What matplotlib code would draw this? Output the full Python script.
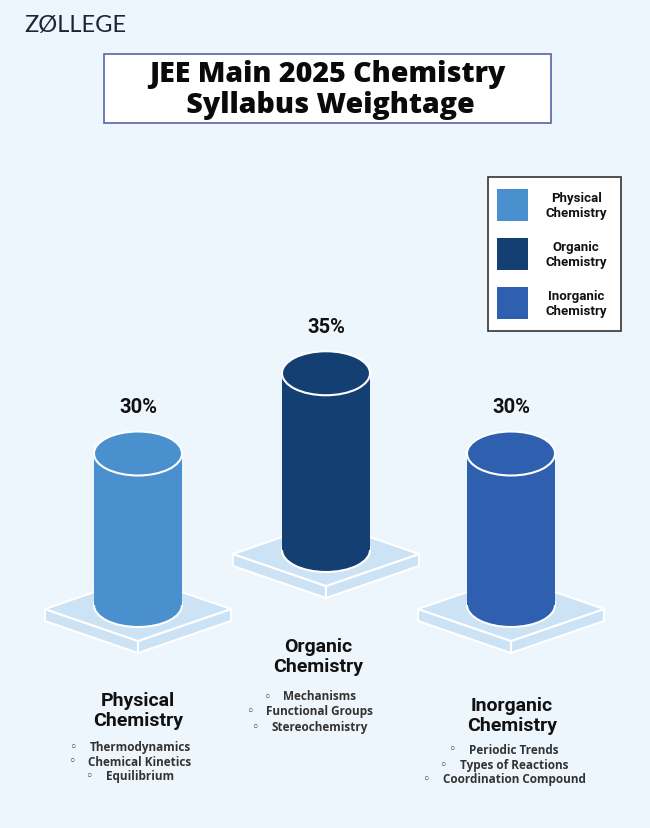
import matplotlib
matplotlib.use("Agg")
import matplotlib.pyplot as plt
from matplotlib.patches import Ellipse, Rectangle, Polygon

categories = ["Physical\nChemistry", "Organic\nChemistry", "Inorganic\nChemistry"]
legend_labels = ["Physical\nChemistry", "Organic\nChemistry", "Inorganic\nChemistry"]
values = [30, 35, 30]
topics = [["Thermodynamics", "Chemical Kinetics", "Equilibrium"],
          ["Mechanisms", "Functional Groups", "Stereochemistry"],
          ["Periodic Trends", "Types of Reactions", "Coordination Compound"]]
colors = ["#4a8fce", "#143f73", "#2f60b0"]

bg = "#eef6fd"
fig = plt.figure(figsize=(6.5, 8.29), dpi=100, facecolor=bg)
ax = fig.add_axes([0, 0, 1, 1])
ax.set_xlim(0, 650); ax.set_ylim(829, 0); ax.axis("off")
ax.set_facecolor(bg)

xc = [138, 326, 511]
base = [606, 551, 606]
scale = 5.05
W, EH = 88, 44
plat = "#cce2f5"

for i, v in enumerate(values):
    cx, by = xc[i], base[i] + 4
    hw, hh, th = 93, 32, 12
    ax.add_patch(Polygon([(cx-hw, by), (cx, by+hh), (cx, by+hh+th), (cx-hw, by+th)],
                         closed=True, fc=plat, ec="white", lw=1.5, zorder=1))
    ax.add_patch(Polygon([(cx+hw, by), (cx, by+hh), (cx, by+hh+th), (cx+hw, by+th)],
                         closed=True, fc=plat, ec="white", lw=1.5, zorder=1))
    ax.add_patch(Polygon([(cx-hw, by), (cx, by-hh), (cx+hw, by), (cx, by+hh)],
                         closed=True, fc=plat, ec="white", lw=1.5, zorder=2))
    top = base[i] - v * scale
    ax.add_patch(Ellipse((cx, base[i]), W, EH, fc=colors[i], ec="white", lw=1.5, zorder=3))
    ax.add_patch(Rectangle((cx - W/2, top), W, base[i] - top, fc=colors[i], ec="none", zorder=4))
    ax.add_patch(Ellipse((cx, top), W, EH, fc=colors[i], ec="white", lw=1.5, zorder=5))
    ax.text(cx, top - 47, f"{v}%", ha="center", va="center", fontsize=14.5,
            fontweight="bold", family="Roboto", color="#111111", zorder=6)

fig.canvas.draw()
r = fig.canvas.get_renderer()

label_y = [711, 657, 716]
label_x = [138, 318, 512]
bullet_y0 = [747, 697, 750]
for i in range(3):
    ax.text(label_x[i], label_y[i], categories[i], ha="center", va="center", fontsize=14,
            fontweight="bold", family="Roboto", color="#111111", linespacing=1.1)
    for j, t in enumerate(topics[i]):
        y = bullet_y0[i] + 15 * j
        txt = ax.text(label_x[i] + 2, y, t, ha="center", va="center", fontsize=8.5,
                      fontweight="bold", family="Open Sans", color="#333333")
        w = txt.get_window_extent(r).width
        ax.text(label_x[i] + 2 - w / 2 - 17, y, "◦", ha="center", va="center",
                fontsize=9, color="#333333", family="DejaVu Sans")

ax.add_patch(Rectangle((104, 55), 447, 69, fc="white", ec="#5a63a8", lw=1.2, zorder=1))
ax.text(327, 90, "JEE Main 2025 Chemistry\n Syllabus Weightage", ha="center", va="center",
        fontsize=20.5, fontweight="heavy", family="Open Sans", color="#0a0a0a", linespacing=1.12)

ax.text(24, 25, "ZØLLEGE", ha="left", va="center", fontsize=17, family="Lato", color="#1e2433")

ax.add_patch(Rectangle((488, 178), 133, 154, fc="white", ec="#333333", lw=1.2))
for i in range(3):
    y = 206 + 49 * i
    ax.add_patch(Rectangle((497, y - 16), 31, 32, fc=colors[i], ec="none"))
    ax.text(576, y, legend_labels[i], ha="center", va="center", fontsize=9.5,
            fontweight="bold", family="Roboto", color="#111111", linespacing=1.15)

fig.savefig("out.png", dpi=100, facecolor=bg)
